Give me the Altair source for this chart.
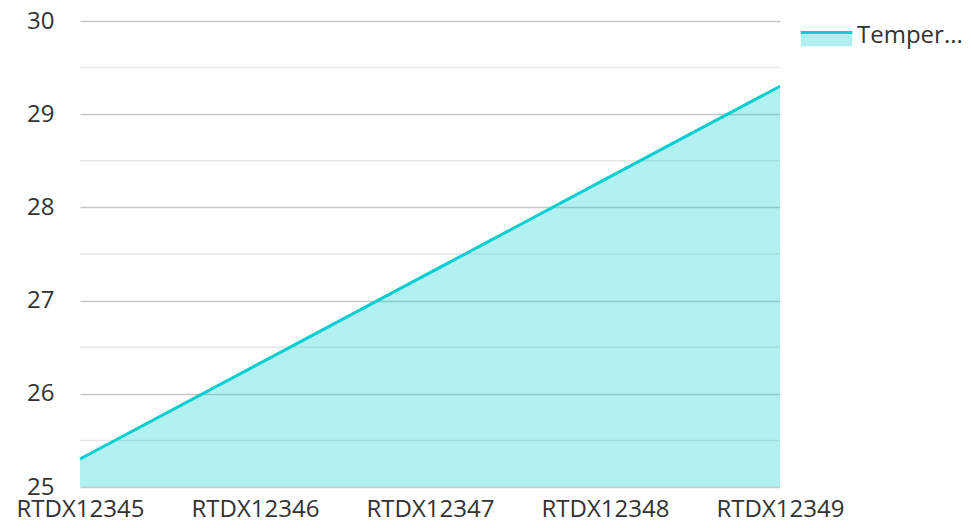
import altair as alt
import pandas as pd

categories = ["RTDX12345", "RTDX12346", "RTDX12347", "RTDX12348", "RTDX12349"]
temperature = [25.3, 26.3, 27.3, 28.3, 29.3]
series_name = "Temperature"
major_ticks = [25, 26, 27, 28, 29, 30]
minor_grid = [25.5, 26.5, 27.5, 28.5, 29.5]

df = pd.DataFrame({"id": categories, "value": temperature, "series": [series_name] * len(categories)})
grid_df = pd.DataFrame({"v": minor_grid})

FONT = "Open Sans"
TEAL = "#00CED1"
TXT = "#333333"
FS = 24

x_enc = alt.X("id:N", sort=categories, title=None,
              scale=alt.Scale(type="point", padding=0),
              axis=alt.Axis(labelAngle=0, domain=False, ticks=False, grid=False,
                            labelPadding=10, labelFontSize=FS, labelColor=TXT,
                            labelFont=FONT))
y_scale = alt.Scale(domain=[25, 30], nice=False, zero=False)
y_axis = alt.Axis(values=major_ticks, domain=False, ticks=False,
                  grid=True, gridColor="#c8c8c8", gridWidth=1.5,
                  labelPadding=26, labelFontSize=FS, labelColor=TXT,
                  labelFont=FONT)

minor = alt.Chart(grid_df).mark_rule(color="#e6e6e6", strokeWidth=1.5).encode(
    y=alt.Y("v:Q", scale=y_scale, axis=y_axis, title=None)
)

legend_common = dict(title=None, orient="none", legendX=719, legendY=-13,
                     symbolSize=2650, symbolStrokeWidth=3,
                     labelFontSize=FS, labelFont=FONT, labelColor=TXT,
                     labelLimit=200, labelOffset=3,
                     labelExpr="slice(datum.label, 0, 6) + '...'")

area = alt.Chart(df).mark_area(fillOpacity=0.3, clip=True).encode(
    x=x_enc,
    y=alt.Y("value:Q", scale=y_scale, axis=y_axis, title=None),
    fill=alt.Fill("series:N", scale=alt.Scale(range=[TEAL]),
                  legend=alt.Legend(symbolType="M-1,-0.12 L1,-0.12 L1,0.42 L-1,0.42 Z",
                                    symbolOpacity=0.3, symbolStrokeColor="transparent",
                                    **legend_common)),
)

line = alt.Chart(df).mark_line(strokeWidth=3).encode(
    x=x_enc,
    y=alt.Y("value:Q", scale=y_scale, axis=y_axis, title=None),
    stroke=alt.Stroke("series:N", scale=alt.Scale(range=[TEAL]),
                      legend=alt.Legend(symbolType="M-1,-0.12 L1,-0.12",
                                        labelOpacity=0, **legend_common)),
)

chart = alt.layer(minor, area, line).resolve_scale(fill="independent", stroke="independent").properties(
    width=700, height=466,
    padding={"left": 72, "top": 13, "right": 183, "bottom": 33},
    autosize=alt.AutoSizeParams(type="none"),
).configure_view(stroke=None)

chart.save("out.html", embed_options={"renderer": "svg", "actions": False})
